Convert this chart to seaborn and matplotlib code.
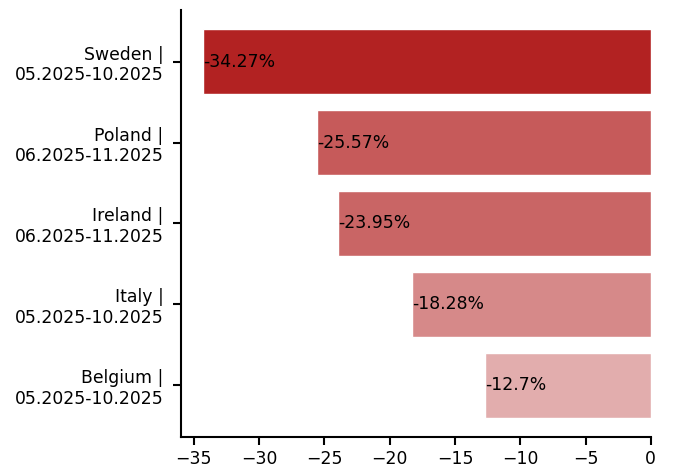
import matplotlib
matplotlib.use("Agg")
import matplotlib.pyplot as plt
import matplotlib.colors as mcolors
import seaborn as sns

countries = ["Sweden", "Poland", "Ireland", "Italy", "Belgium"]
periods = ["05.2025-10.2025", "06.2025-11.2025", "06.2025-11.2025",
           "05.2025-10.2025", "05.2025-10.2025"]
changes = [-34.27, -25.57, -23.95, -18.28, -12.7]

labels = [f"{c} |\n{p}" for c, p in zip(countries, periods)]

# shade firebrick by size of the drop
max_abs = max(abs(v) for v in changes)
base = mcolors.to_rgb("firebrick")
colors = [tuple(1 - (1 - ch) * abs(v) / max_abs for ch in base) for v in changes]

sns.set_style("ticks")
plt.rcParams["font.family"] = ["DejaVu Sans"]
plt.rcParams["text.color"] = "black"
plt.rcParams["xtick.color"] = "black"
plt.rcParams["ytick.color"] = "black"

fig = plt.figure(figsize=(6.73, 4.70), dpi=100)
ax = fig.add_axes([0.269, 0.070, 0.698, 0.909])

sns.barplot(x=changes, y=labels, hue=labels, palette=colors, legend=False,
            orient="h", width=0.8, saturation=1, ax=ax)

for i, v in enumerate(changes):
    ax.text(v, i, f"{v}%", ha="left", va="center", fontsize=12.4, color="black")

ax.set_xlim(-35.98, 0)
ax.set_ylim(4.64, -0.64)
ax.set_xticks([-35, -30, -25, -20, -15, -10, -5, 0])
ax.set_xlabel("")
ax.set_ylabel("")
sns.despine(ax=ax)
for s in ["left", "bottom"]:
    ax.spines[s].set_linewidth(1.5)
    ax.spines[s].set_color("black")
ax.tick_params(axis="both", labelsize=12.4, length=6, width=1.5, color="black",
               labelcolor="black", bottom=True, left=True)
ax.tick_params(axis="y", pad=6.5)
ax.tick_params(axis="x", pad=3.0)

fig.savefig("out.png", dpi=100)
